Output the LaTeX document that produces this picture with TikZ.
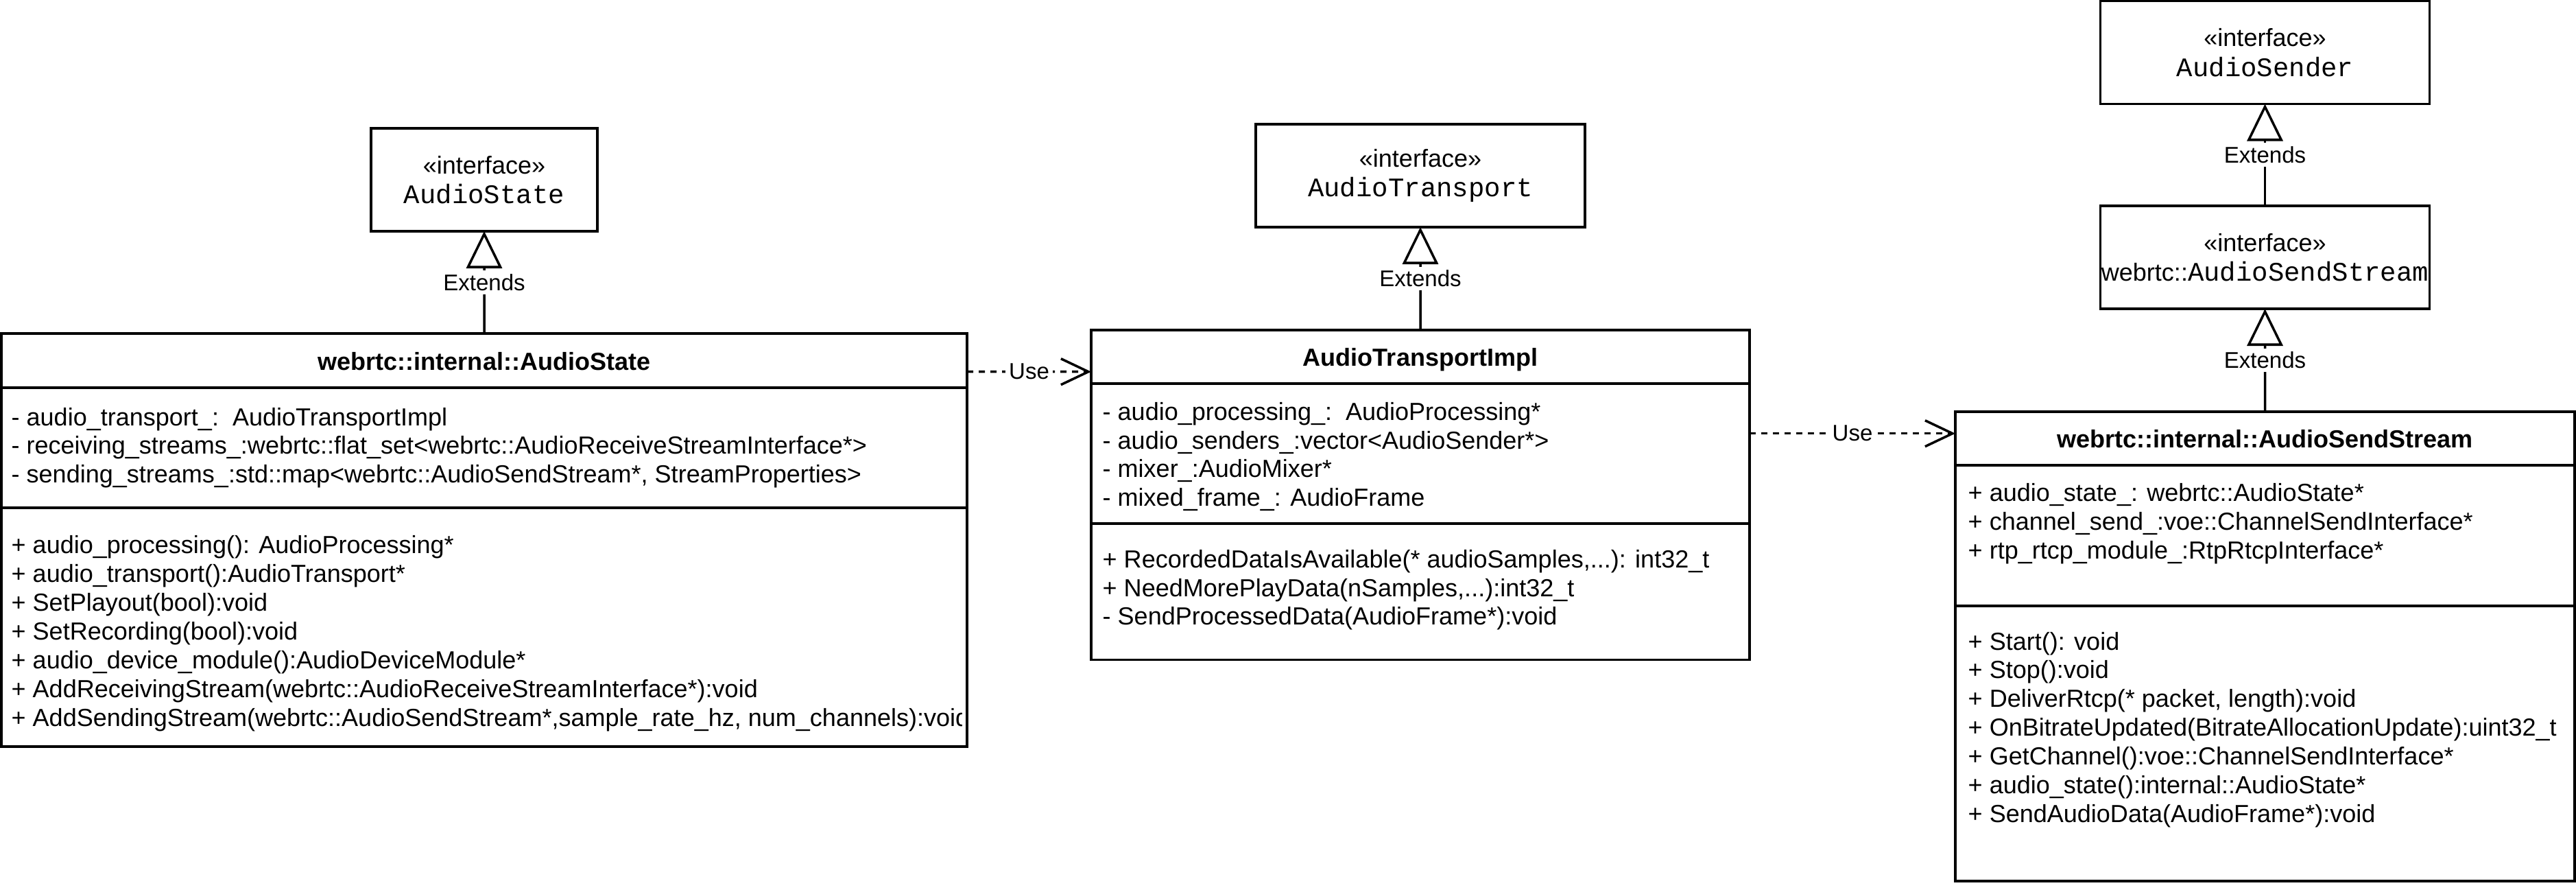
\documentclass[tikz,border=0pt]{standalone}
\usepackage{fontspec}
\setmainfont{Liberation Sans}
\setmonofont{Liberation Mono}
\usetikzlibrary{arrows.meta,calc}
\newcommand{\umlsz}{\fontsize{10.25pt}{12.3pt}\selectfont}
\newcommand{\lblsz}{\fontsize{9.4pt}{11pt}\selectfont}
\newcommand{\mononame}[1]{{\fontsize{11.1pt}{12.4pt}\selectfont\ttfamily #1}}
\tikzset{
  iface/.style={draw, line width=1.1pt, minimum width=4.8cm, minimum height=1.5cm,
                inner sep=0pt, outer sep=0pt, align=center,
                font=\fontsize{10.25pt}{12.4pt}\selectfont},
  cls/.style={draw, line width=1.1pt, anchor=north west, inner sep=0pt, outer sep=0pt},
  sep/.style={line width=1.1pt},
  ttl/.style={anchor=base, inner sep=0pt, font=\umlsz\bfseries},
  mem/.style={anchor=base west, inner sep=0pt, font=\umlsz},
  extarr/.style={line width=1pt, -{Triangle[open, length=0.54cm, width=0.52cm]}},
  usearr/.style={line width=1pt, dash pattern=on 0.09cm off 0.08cm,
                 -{Straight Barb[length=0.4cm, width=0.38cm]}},
  elab/.style={fill=white, inner sep=1.5pt, font=\lblsz},
}

\begin{document}
\begin{tikzpicture}
  \useasboundingbox (0,0) rectangle (37.56,-12.96);
  % interfaces
  \node[iface, minimum width=3.3cm] (stateif) at (7.06,-2.62) {«interface»\\\mononame{AudioState}};
  \node[iface] (transif) at (20.71,-2.56) {«interface»\\\mononame{AudioTransport}};
  \node[iface] (senderif) at (33.025,-0.765) {«interface»\\\mononame{AudioSender}};
  \node[iface] (streamif) at (33.025,-3.75) {«interface»\\webrtc::\mononame{AudioSendStream}};

  % webrtc::internal::AudioState
  \node[cls, minimum width=14.08cm, minimum height=6.02cm] (state) at (0.02,-4.86) {};
  \draw[sep] (0.02,-5.65) -- (14.10,-5.65);
  \draw[sep] (0.02,-7.40) -- (14.10,-7.40);
  \node[ttl] (state-t) at (7.06,-5.39) {webrtc::internal::AudioState};
  \node[mem] (state-a1) at (0.16,-6.20) {- audio\_transport\_:\ \ AudioTransportImpl};
  \node[mem] (state-a2) at (0.16,-6.617) {- receiving\_streams\_:webrtc::flat\_set<webrtc::AudioReceiveStreamInterface*>};
  \node[mem] (state-a3) at (0.16,-7.034) {- sending\_streams\_:std::map<webrtc::AudioSendStream*, StreamProperties>};
  \node[mem] (state-m1) at (0.16,-8.065) {+ audio\_processing(): AudioProcessing*};
  \node[mem] (state-m2) at (0.16,-8.485) {+ audio\_transport():AudioTransport*};
  \node[mem] (state-m3) at (0.16,-8.905) {+ SetPlayout(bool):void};
  \node[mem] (state-m4) at (0.16,-9.325) {+ SetRecording(bool):void};
  \node[mem] (state-m5) at (0.16,-9.745) {+ audio\_device\_module():AudioDeviceModule*};
  \node[mem] (state-m6) at (0.16,-10.165) {+ AddReceivingStream(webrtc::AudioReceiveStreamInterface*):void};
  \begin{scope}
    \clip (0.02,-4.86) rectangle (14.02,-10.88);
    \node[mem] (state-m7) at (0.16,-10.585) {+ AddSendingStream(webrtc::AudioSendStream*,sample\_rate\_hz, num\_channels):void};
  \end{scope}

  % AudioTransportImpl
  \node[cls, minimum width=9.6cm, minimum height=4.805cm] (transport) at (15.91,-4.81) {};
  \draw[sep] (15.91,-5.59) -- (25.51,-5.59);
  \draw[sep] (15.91,-7.63) -- (25.51,-7.63);
  \node[ttl] (transport-t) at (20.71,-5.33) {AudioTransportImpl};
  \node[mem] (transport-a1) at (16.07,-6.127) {- audio\_processing\_:\ \ AudioProcessing*};
  \node[mem] (transport-a2) at (16.07,-6.542) {- audio\_senders\_:vector<AudioSender*>};
  \node[mem] (transport-a3) at (16.07,-6.957) {- mixer\_:AudioMixer*};
  \node[mem] (transport-a4) at (16.07,-7.372) {- mixed\_frame\_: AudioFrame};
  \node[mem] (transport-m1) at (16.07,-8.277) {+ RecordedDataIsAvailable(* audioSamples,...): int32\_t};
  \node[mem] (transport-m2) at (16.07,-8.692) {+ NeedMorePlayData(nSamples,...):int32\_t};
  \node[mem] (transport-m3) at (16.07,-9.107) {- SendProcessedData(AudioFrame*):void};

  % webrtc::internal::AudioSendStream
  \node[cls, minimum width=9.03cm, minimum height=6.84cm] (stream) at (28.51,-6.00) {};
  \draw[sep] (28.51,-6.78) -- (37.54,-6.78);
  \draw[sep] (28.51,-8.83) -- (37.54,-8.83);
  \node[ttl] (stream-t) at (33.025,-6.52) {webrtc::internal::AudioSendStream};
  \node[mem] (stream-a1) at (28.69,-7.30) {+ audio\_state\_: webrtc::AudioState*};
  \node[mem] (stream-a2) at (28.69,-7.72) {+ channel\_send\_:voe::ChannelSendInterface*};
  \node[mem] (stream-a3) at (28.69,-8.14) {+ rtp\_rtcp\_module\_:RtpRtcpInterface*};
  \node[mem] (stream-m1) at (28.69,-9.47) {+ Start(): void};
  \node[mem] (stream-m2) at (28.69,-9.885) {+ Stop():void};
  \node[mem] (stream-m3) at (28.69,-10.30) {+ DeliverRtcp(* packet, length):void};
  \node[mem] (stream-m4) at (28.69,-10.72) {+ OnBitrateUpdated(BitrateAllocationUpdate):uint32\_t};
  \node[mem] (stream-m5) at (28.69,-11.14) {+ GetChannel():voe::ChannelSendInterface*};
  \node[mem] (stream-m6) at (28.69,-11.56) {+ audio\_state():internal::AudioState*};
  \node[mem] (stream-m7) at (28.69,-11.98) {+ SendAudioData(AudioFrame*):void};

  % extends
  \draw[extarr] (state) -- node[elab] (ext1) {Extends} (stateif);
  \draw[extarr] (transport) -- node[elab] (ext2) {Extends} (transif);
  \draw[extarr] (streamif) -- node[elab] (ext3) {Extends} (senderif);
  \draw[extarr] (stream) -- node[elab] (ext4) {Extends} (streamif);

  % uses
  \draw[usearr] ($(state.north east)+(0,-0.557)$) -- node[elab] (use1) {Use} ($(transport.north west)+(0,-0.607)$);
  \draw[usearr] ($(transport.north east)+(0,-1.507)$) -- node[elab] (use2) {Use} ($(stream.north west)+(0,-0.317)$);
\end{tikzpicture}
\end{document}
